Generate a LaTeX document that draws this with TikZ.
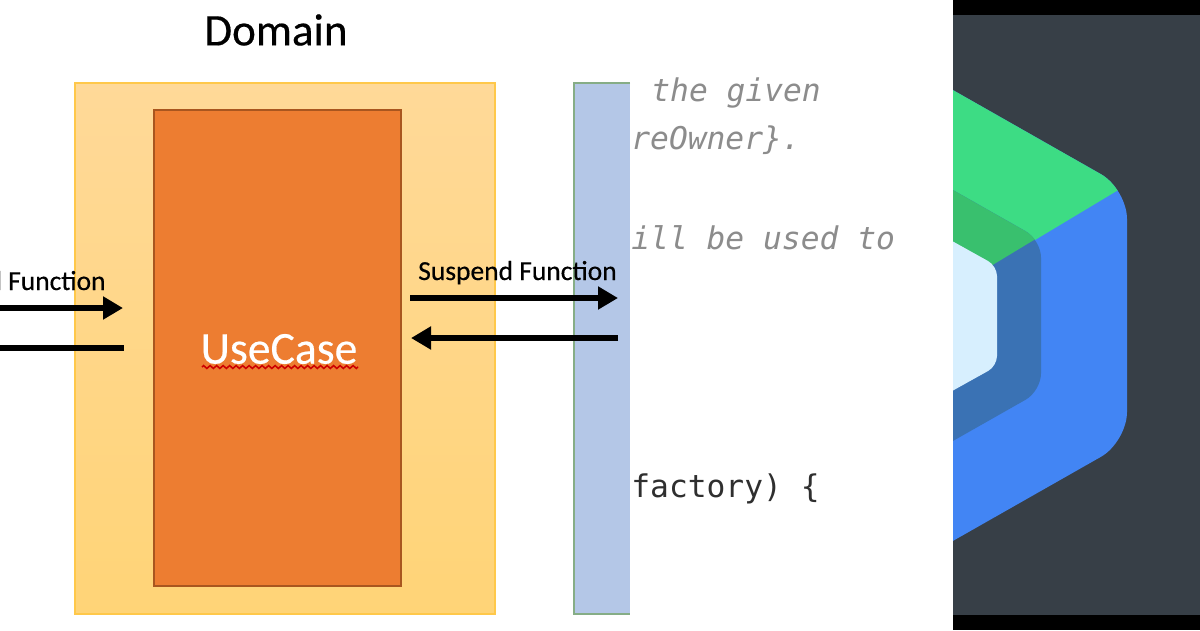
\documentclass[tikz,border=0pt]{standalone}
\usepackage{fontspec}
\setmainfont{Carlito}
\newfontfamily\labelfont{Carlito}[FakeBold=0.4]
\newfontfamily\codefont{DejaVu Sans Mono}
\usetikzlibrary{positioning}
\usetikzlibrary{arrows.meta}
\usetikzlibrary{decorations.pathmorphing}
\definecolor{domainTop}{HTML}{FFD998}
\definecolor{domainBot}{HTML}{FFD477}
\definecolor{domainEdge}{HTML}{FFC84A}
\definecolor{caseFill}{HTML}{ED7D31}
\definecolor{caseEdge}{HTML}{A9561F}
\definecolor{repoFill}{HTML}{B4C7E7}
\definecolor{repoEdge}{HTML}{86AD86}
\definecolor{panel}{HTML}{373F47}
\definecolor{logoGreen}{HTML}{3DDC84}
\definecolor{logoBlue}{HTML}{4285F4}
\definecolor{logoGreenDark}{HTML}{39C06E}
\definecolor{logoBlueDark}{HTML}{3A72B4}
\definecolor{logoLight}{HTML}{D7EFFE}
\definecolor{commentGray}{HTML}{8C8C8C}
\definecolor{codeDark}{HTML}{2F2F2F}
\begin{document}
\begin{tikzpicture}[x=0.02cm, y=-0.02cm,
                        domainbox/.style={draw=domainEdge, line width=0.03cm, top color=domainTop, bottom color=domainBot, inner sep=0pt, outer sep=0pt},
                        casebox/.style={draw=caseEdge, line width=0.035cm, fill=caseFill, inner sep=0pt, outer sep=0pt},
                        flow/.style={line width=0.12cm, -{Triangle[length=0.4cm, width=0.44cm]}},
                        fnlabel/.style={font=\labelfont\fontsize{15.65}{18}\selectfont, inner sep=0pt},
                        comment/.style={font=\codefont\itshape\fontsize{17.8}{20}\selectfont, text=commentGray, anchor=base west, inner sep=0pt},
                        code/.style={font=\codefont\fontsize{17.8}{20}\selectfont, text=codeDark, anchor=base west, inner sep=0pt}]
            \path[use as bounding box, clip] (0,0) rectangle (1200,630);
            \fill[white] (0,0) rectangle (1200,630);

            % Domain
            \node[domainbox, minimum width=8.4cm, minimum height=10.62cm] (domain) at (285,348.5) {};
            \node[casebox, minimum width=4.94cm, minimum height=9.52cm] (usecase) at (277.5,348) {};
            \node[font=\labelfont\fontsize{25.7}{30}\selectfont, inner sep=0pt] (title) at (276,30) {Domain};
            \node[font=\labelfont\fontsize{26}{30}\selectfont, text=white, inner sep=0pt] (caselabel) at (279,349) {UseCase};
            \coordinate (waveL) at (202,367);
            \coordinate (waveR) at (358,367);
            \draw[red!80!black, line width=0.03cm, decorate, decoration={zigzag, amplitude=0.03cm, segment length=0.13cm}] (waveL) -- (waveR);

            % Repository
            \fill[repoFill] (574,83) rectangle (630,614);
            \draw[repoEdge, line width=0.04cm] (630,83) -- (574,83) -- (574,614) -- (630,614);

            % Arrows
            \coordinate (inA) at (-40,308);
            \coordinate (inB) at (123,308);
            \coordinate (outA) at (-40,348);
            \coordinate (outB) at (124,348);
            \coordinate (callA) at (410,298);
            \coordinate (callB) at (618,298);
            \coordinate (backA) at (618,338);
            \coordinate (backB) at (411,338);
            \draw[flow] (inA) -- (inB);
            \draw[line width=0.12cm] (outA) -- (outB);
            \draw[flow] (callA) -- (callB);
            \draw[flow] (backA) -- (backB);
            \node[fnlabel, anchor=base east] (leftfn) at (106,290) {Suspend Function};
            \node[fnlabel, anchor=base] (rightfn) at (517.5,280) {Suspend Function};

            % Code
            \node[comment] (lineA) at (651,101) {the given};
            \node[comment] (lineB) at (631,149) {reOwner\}.};
            \node[comment] (lineC) at (631,249) {ill be used to};
            \node[code] (lineD) at (631,497) {factory) \{};

            % Logo
            \fill[panel] (953,0) rectangle (1200,630);
            \fill[black] (953,0) rectangle (1200,14.5);
            \fill[black] (953,614.5) rectangle (1200,630);
            \begin{scope}
                \clip[rounded corners=0.6cm] (900,60) -- (1127,189) -- (1127,442) -- (900,571) -- cycle;
                \fill[logoBlue] (900,0) rectangle (1200,630);
                \fill[logoGreen] (900,0) -- (1200,0) -- (1200,141) -- (900,321) -- cycle;
            \end{scope}
            \begin{scope}
                \clip[rounded corners=0.35cm] (900,160) -- (1041,240) -- (1041,391) -- (900,471) -- cycle;
                \fill[logoBlueDark] (900,100) rectangle (1100,500);
                \fill[logoGreenDark] (900,100) -- (1100,100) -- (1100,200) -- (900,321) -- cycle;
            \end{scope}
            \fill[logoLight, rounded corners=0.2cm] (900,212) -- (997,266) -- (997,366) -- (900,420) -- cycle;
            \fill[white] (900,0) rectangle (953,630);
        \end{tikzpicture}
\end{document}
